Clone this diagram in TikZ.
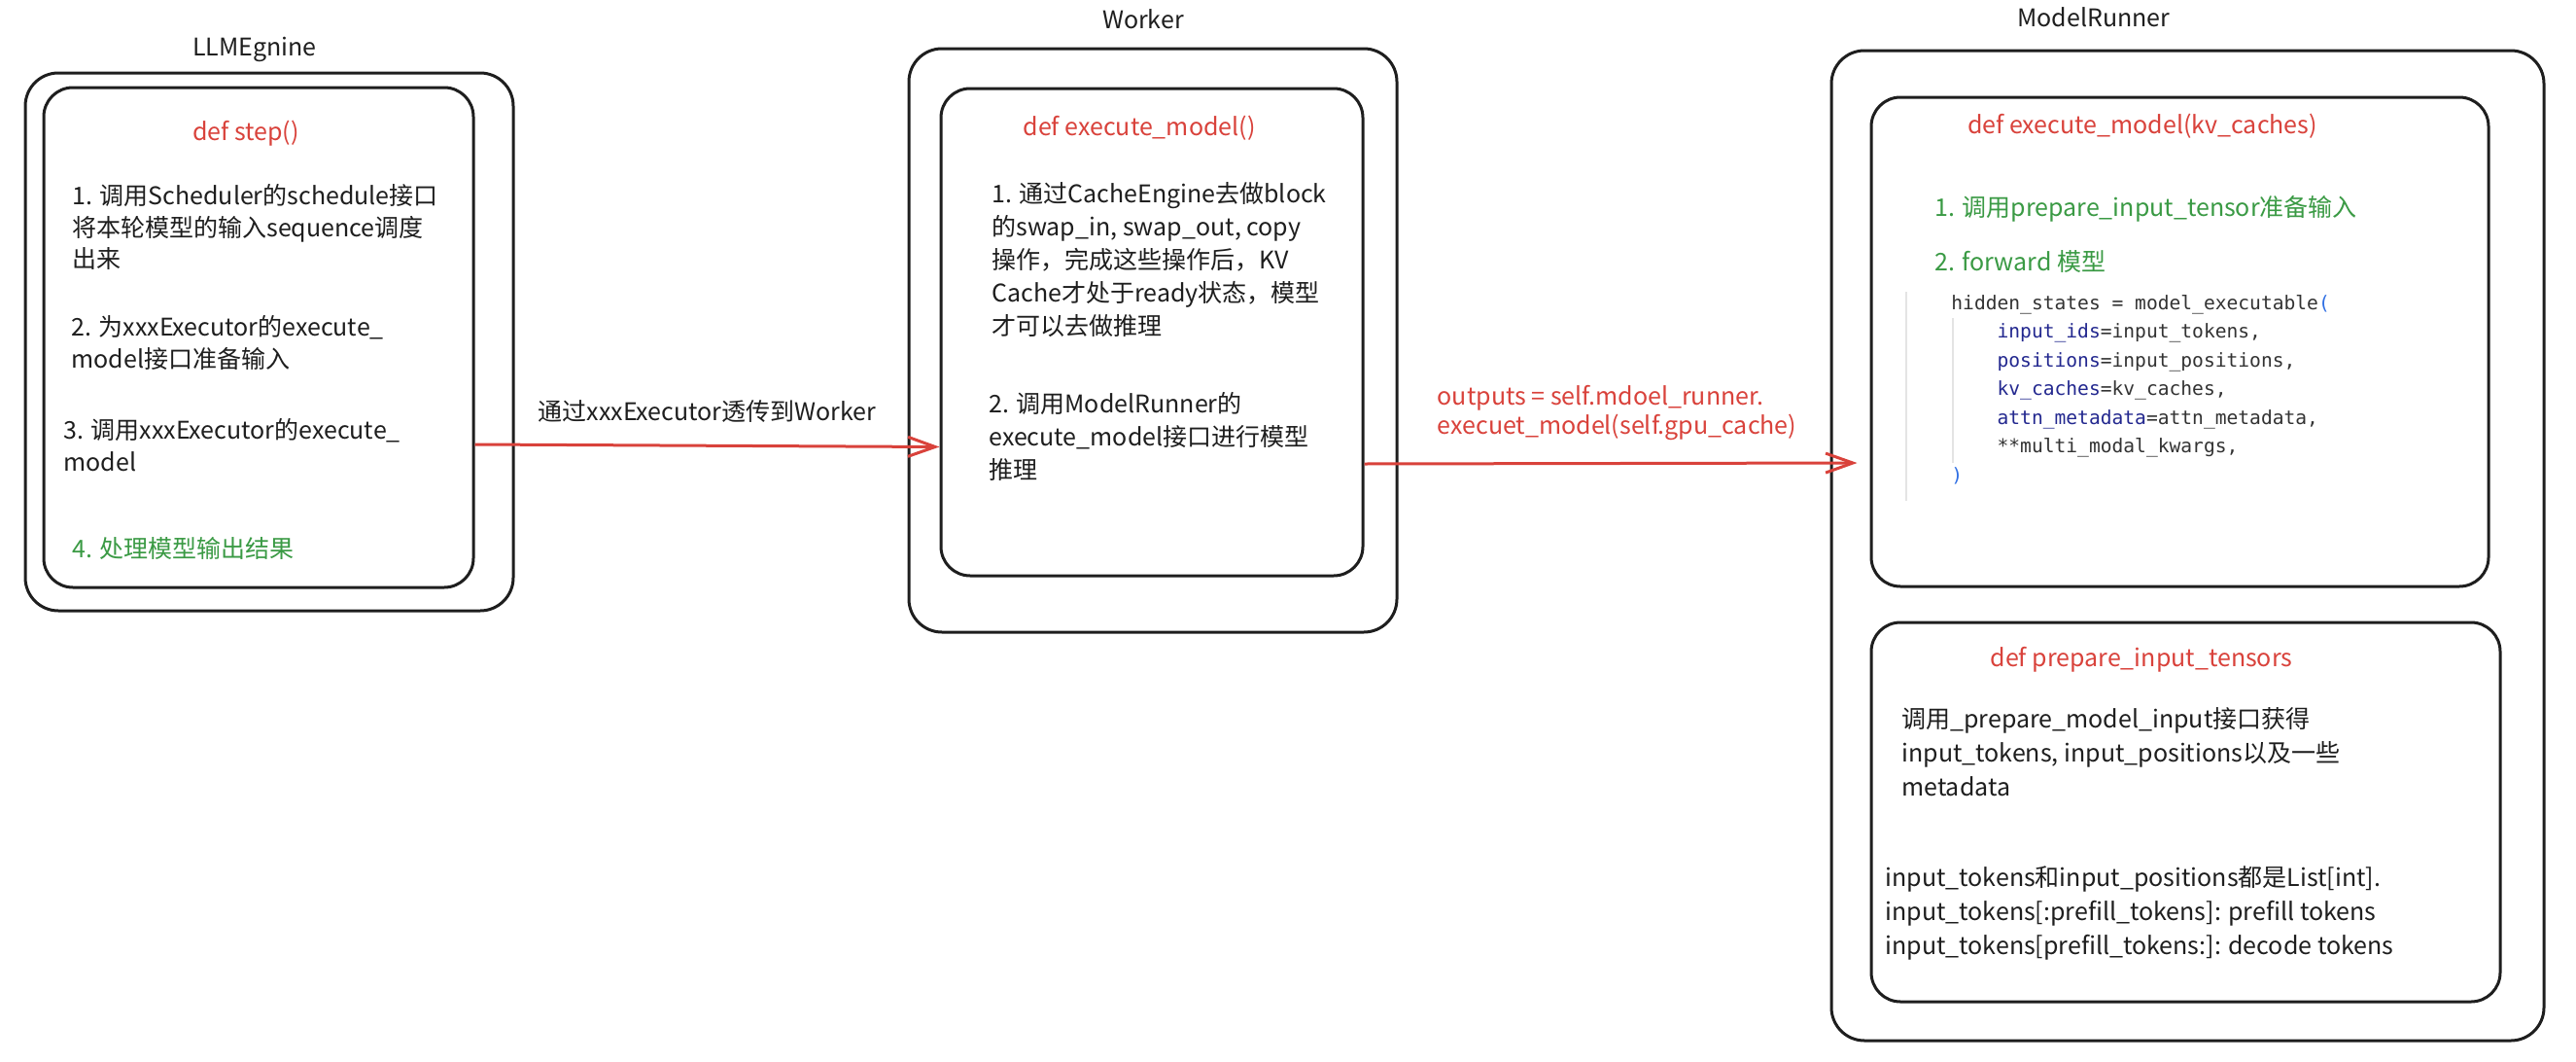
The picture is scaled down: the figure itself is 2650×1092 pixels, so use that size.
\documentclass[tikz,border=0pt]{standalone}
\usepackage{fontspec}
\setmainfont{Noto Sans CJK SC}
\newfontfamily\codefont{DejaVu Sans Mono}
\usepackage{xcolor}
\usetikzlibrary{arrows.meta}
\definecolor{ink}{HTML}{1E1E1E}
\definecolor{redc}{HTML}{D9423B}
\definecolor{greenc}{HTML}{3A9A44}
\definecolor{codec}{HTML}{333333}
\definecolor{kwc}{HTML}{23288F}
\definecolor{parc}{HTML}{2F6FE4}
\definecolor{rulec}{HTML}{E4E4E4}

\begin{document}
\begin{tikzpicture}[x=0.5pt,y=-0.5pt,
  framebox/.style={draw=ink,line width=1.5pt,rounded corners=17pt,inner sep=0pt},
  funcbox/.style={draw=ink,line width=1.5pt,rounded corners=15pt,inner sep=0pt},
  txt/.style={anchor=north west,inner sep=0pt,align=left,text=ink,font=\fontsize{12.5pt}{16.25pt}\selectfont},
  ttl/.style={inner sep=0pt,text=ink,font=\fontsize{12.5pt}{15pt}\selectfont},
  fn/.style={inner sep=0pt,text=redc,font=\fontsize{12.5pt}{15pt}\selectfont},
  flow/.style={draw=redc,line width=1.5pt,-{Straight Barb[length=14pt,width=10pt]}}]
\fill[white] (0,0) rectangle (2650,1092);
\useasboundingbox (0,0) rectangle (2650,1092);

% LLMEgnine
\node[ttl](enginetitle) at (262,51){LLMEgnine};
\node[framebox,minimum width=251pt,minimum height=276.5pt](engine) at (277,351.5){};
\node[funcbox,minimum width=221pt,minimum height=257pt](enginestep) at (266,347){};
\node[fn](stepname) at (253,137){def step()};
\node[txt](step1) at (74,189){1. 调用Scheduler的schedule接口\\将本轮模型的输入sequence调度\\出来};
\node[txt](step2) at (73,324){2. 为xxxExecutor的execute\_\\model接口准备输入};
\node[txt](step3) at (65,430){3. 调用xxxExecutor的execute\_\\model};
\node[txt,text=greenc](step4) at (74,552){4. 处理模型输出结果};

% Worker
\node[ttl](workertitle) at (1176,20){Worker};
\node[framebox,minimum width=251pt,minimum height=300pt](worker) at (1186,350){};
\node[funcbox,minimum width=217pt,minimum height=250.5pt](workerexec) at (1185,341.5){};
\node[fn](execname) at (1172,132){def execute\_model()};
\node[txt,font=\fontsize{12.5pt}{17pt}\selectfont](exec1) at (1020,187){1. 通过CacheEngine去做block\\的swap\_in, swap\_out, copy\\操作，完成这些操作后，KV\\Cache才处于ready状态，模型\\才可以去做推理};
\node[txt,font=\fontsize{12.5pt}{17pt}\selectfont](exec2) at (1017,403){2. 调用ModelRunner的\\execute\_model接口进行模型\\推理};

% ModelRunner
\node[ttl](runnertitle) at (2154,18){ModelRunner};
\node[framebox,minimum width=366.5pt,minimum height=509pt](runner) at (2250.5,561){};
\node[funcbox,minimum width=317.5pt,minimum height=251.5pt](runnerexec) at (2242.5,351.5){};
\node[fn](runname) at (2204,130){def execute\_model(kv\_caches)};
\node[txt,text=greenc](run1) at (1990,201){1. 调用prepare\_input\_tensor准备输入};
\node[txt,text=greenc](run2) at (1990,257){2. forward 模型};
\draw[rulec,line width=1pt] (1961,300) -- (1961,515);
\draw[rulec,line width=1pt] (2009,327) -- (2009,476);
\node[anchor=north west,inner sep=0pt,align=left,text=codec,font=\codefont\fontsize{9.8pt}{14.75pt}\selectfont](code) at (2007,303){hidden\_states = model\_executable\textcolor{parc}{(}\\
\phantom{xxxx}\textcolor{kwc}{input\_ids}=input\_tokens,\\
\phantom{xxxx}\textcolor{kwc}{positions}=input\_positions,\\
\phantom{xxxx}\textcolor{kwc}{kv\_caches}=kv\_caches,\\
\phantom{xxxx}\textcolor{kwc}{attn\_metadata}=attn\_metadata,\\
\phantom{xxxx}**multi\_modal\_kwargs,\\
\textcolor{parc}{)}};
\node[funcbox,minimum width=323.5pt,minimum height=195pt](runnerprep) at (2248.5,835){};
\node[fn](prepname) at (2203,678){def prepare\_input\_tensors};
\node[txt,font=\fontsize{12.5pt}{17.5pt}\selectfont](prep1) at (1956,727){调用\_prepare\_model\_input接口获得\\input\_tokens, input\_positions以及一些\\metadata};
\node[txt,font=\fontsize{12.5pt}{17.5pt}\selectfont](prep2) at (1939,890){input\_tokens和input\_positions都是List[int].\\input\_tokens[:prefill\_tokens]: prefill tokens\\input\_tokens[prefill\_tokens:]: decode tokens};

% calls
\draw[flow] ([yshift=-55pt]enginestep.east) -- ([yshift=-59pt]workerexec.west)
  node[midway,above=11pt,ttl](passlabel){通过xxxExecutor透传到Worker};
\draw[flow,shorten >=6.5pt] ([yshift=-67.75pt]workerexec.east) -- ([yshift=-62.25pt]runnerexec.west)
  node[midway,above=11pt,fn,align=left](calllabel){outputs = self.mdoel\_runner.\\execuet\_model(self.gpu\_cache)};
\end{tikzpicture}
\end{document}
